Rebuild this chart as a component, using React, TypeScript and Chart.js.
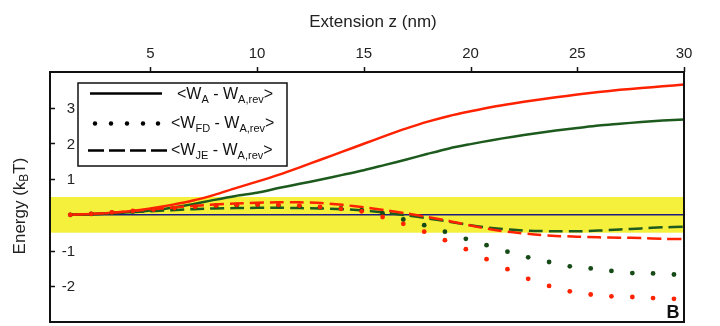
import React, { useEffect, useRef } from 'react';
import { Chart, registerables } from 'chart.js';
Chart.register(...registerables);

// ---- data ----
const zSolid = [1.25, 2.5, 4, 5, 6, 7, 8, 9, 10, 11, 12, 13, 14, 15, 16, 17, 18, 19, 20, 21, 22, 23, 24, 25, 26, 27, 28, 29, 30];
const wARed = [0, 0.03, 0.1, 0.18, 0.28, 0.4, 0.56, 0.75, 0.93, 1.12, 1.33, 1.55, 1.77, 1.99, 2.21, 2.42, 2.61, 2.77, 2.9, 3.02, 3.12, 3.21, 3.29, 3.37, 3.44, 3.5, 3.55, 3.6, 3.65];
const wAGreen = [0, 0.02, 0.07, 0.12, 0.2, 0.3, 0.42, 0.53, 0.62, 0.75, 0.87, 0.99, 1.12, 1.25, 1.4, 1.55, 1.71, 1.86, 1.98, 2.09, 2.19, 2.28, 2.36, 2.43, 2.5, 2.55, 2.6, 2.64, 2.67];

const zDashed = [1.25, 3, 5, 7, 9, 11, 12, 13, 14, 15, 16, 17, 18, 19, 20, 21, 22, 23, 24, 25, 26, 27, 28, 29, 30];
const wJERed = [0, 0.05, 0.15, 0.25, 0.32, 0.35, 0.35, 0.33, 0.28, 0.21, 0.13, 0.04, -0.06, -0.17, -0.3, -0.41, -0.49, -0.55, -0.59, -0.61, -0.63, -0.64, -0.65, -0.67, -0.68];
const wJEGreen = [0, 0.04, 0.1, 0.16, 0.19, 0.2, 0.19, 0.18, 0.16, 0.12, 0.06, -0.01, -0.1, -0.19, -0.29, -0.37, -0.42, -0.45, -0.46, -0.46, -0.44, -0.41, -0.38, -0.35, -0.33];

const zDotted = [1.25, 2.23, 3.2, 4.18, 5.15, 6.13, 7.1, 8.08, 9.05, 10.03, 11, 11.98, 12.95, 13.93, 14.9, 15.88, 16.85, 17.83, 18.8, 19.78, 20.75, 21.73, 22.7, 23.68, 24.65, 25.63, 26.6, 27.58, 28.55, 29.53];
const wFDRed = [0, 0.03, 0.07, 0.11, 0.15, 0.19, 0.23, 0.26, 0.28, 0.29, 0.28, 0.26, 0.22, 0.17, 0.1, -0.06, -0.25, -0.47, -0.71, -0.96, -1.24, -1.52, -1.79, -1.99, -2.14, -2.23, -2.28, -2.3, -2.33, -2.35];
const wFDGreen = [0, 0.03, 0.06, 0.1, 0.14, 0.18, 0.22, 0.25, 0.27, 0.28, 0.26, 0.24, 0.21, 0.18, 0.13, 0.04, -0.13, -0.29, -0.47, -0.67, -0.85, -1.03, -1.19, -1.32, -1.44, -1.5, -1.57, -1.63, -1.64, -1.67];

const zeroLineZ = [1.25, 30];
const zeroLineW = [0, 0];
const bandLimits = [-0.5, 0.5];

const xTicks = [5, 10, 15, 20, 25, 30];
const yTicks = [-2, -1, 1, 2, 3];

const xTitle = 'Extension z (nm)';
const yTitleParts: [string, boolean][] = [['Energy (k', false], ['B', true], ['T)', false]];
const legendRows: [string, boolean][][] = [
  [['<W', false], ['A', true], [' - W', false], ['A,rev', true], ['>', false]],
  [['<W', false], ['FD', true], [' - W', false], ['A,rev', true], ['>', false]],
  [['<W', false], ['JE', true], [' - W', false], ['A,rev', true], ['>', false]],
];
const panelLabel = 'B';

const RED = '#ff2200';
const GREEN = '#1d5a1d';
const FONT = '"Liberation Sans", Arial, sans-serif';

const pts = (xs: number[], ys: number[]) => xs.map((x, i) => ({ x, y: ys[i] }));

function drawRich(ctx: CanvasRenderingContext2D, parts: [string, boolean][], x: number, y: number, size: number, weight = 'normal') {
  let cx = x;
  for (const [t, sub] of parts) {
    ctx.font = `${weight} ${sub ? Math.round(size * 0.68) : size}px ${FONT}`;
    ctx.fillText(t, cx, sub ? y + size * 0.3 : y);
    cx += ctx.measureText(t).width;
  }
  return cx - x;
}
function richWidth(ctx: CanvasRenderingContext2D, parts: [string, boolean][], size: number, weight = 'normal') {
  let w = 0;
  for (const [t, sub] of parts) {
    ctx.font = `${weight} ${sub ? Math.round(size * 0.68) : size}px ${FONT}`;
    w += ctx.measureText(t).width;
  }
  return w;
}

const decorPlugin = {
  id: 'decor',
  beforeDatasetsDraw(chart: any) {
    const { ctx, chartArea, scales } = chart;
    const y = scales.y;
    ctx.save();
    ctx.fillStyle = '#f5f03c';
    const top = y.getPixelForValue(bandLimits[1]);
    const bot = y.getPixelForValue(bandLimits[0]);
    ctx.fillRect(chartArea.left, top, chartArea.right - chartArea.left, bot - top);
    ctx.restore();
  },
  afterDraw(chart: any) {
    const { ctx, chartArea, scales } = chart;
    const xs = scales.x;
    const ys = scales.y;
    ctx.save();
    // box
    ctx.strokeStyle = '#111';
    ctx.lineWidth = 2;
    ctx.strokeRect(chartArea.left, chartArea.top, chartArea.right - chartArea.left, chartArea.bottom - chartArea.top);
    // ticks
    ctx.lineWidth = 1.5;
    ctx.beginPath();
    for (const v of xTicks) {
      const px = Math.round(xs.getPixelForValue(v)) + 0.5;
      ctx.moveTo(px, chartArea.top);
      ctx.lineTo(px, chartArea.top - 5);
    }
    for (const v of yTicks) {
      const py = Math.round(ys.getPixelForValue(v)) + 0.5;
      ctx.moveTo(chartArea.left, py);
      ctx.lineTo(chartArea.left + 5, py);
    }
    ctx.stroke();

    ctx.fillStyle = '#222';
    // y tick labels (inside the plot, right aligned)
    ctx.font = `15px ${FONT}`;
    ctx.textAlign = 'right';
    ctx.textBaseline = 'middle';
    for (const v of yTicks) {
      ctx.fillText(String(v), chartArea.left + 25, ys.getPixelForValue(v) + 1);
    }
    // x title
    ctx.font = `17px ${FONT}`;
    ctx.textAlign = 'center';
    ctx.textBaseline = 'middle';
    ctx.fillText(xTitle, 373, 22);
    // y title
    ctx.save();
    ctx.translate(20, 206);
    ctx.rotate(-Math.PI / 2);
    ctx.textAlign = 'left';
    const yw = richWidth(ctx, yTitleParts, 17);
    drawRich(ctx, yTitleParts, -yw / 2, 0, 17);
    ctx.restore();

    // legend
    const lx = 78, ly = 83, lw = 209, lh = 83;
    ctx.fillStyle = '#fff';
    ctx.fillRect(lx, ly, lw, lh);
    ctx.strokeStyle = '#111';
    ctx.lineWidth = 1.5;
    ctx.strokeRect(lx, ly, lw, lh);
    ctx.strokeStyle = '#000';
    ctx.fillStyle = '#000';
    // row 1 solid
    ctx.lineWidth = 2.5;
    ctx.beginPath();
    ctx.moveTo(90, 93.5);
    ctx.lineTo(162, 93.5);
    ctx.stroke();
    // row 2 dots
    for (const dx of [95, 111, 127, 143, 158]) {
      ctx.beginPath();
      ctx.arc(dx, 123.5, 2.2, 0, Math.PI * 2);
      ctx.fill();
    }
    // row 3 dashed
    ctx.setLineDash([16, 5]);
    ctx.beginPath();
    ctx.moveTo(88, 150.5);
    ctx.lineTo(168, 150.5);
    ctx.stroke();
    ctx.setLineDash([]);
    ctx.textAlign = 'left';
    ctx.textBaseline = 'middle';
    ctx.fillStyle = '#111';
    drawRich(ctx, legendRows[0], 177, 95, 16);
    drawRich(ctx, legendRows[1], 171, 124, 16);
    drawRich(ctx, legendRows[2], 171, 151, 16);

    // panel label
    ctx.font = `bold 18px ${FONT}`;
    ctx.textAlign = 'center';
    ctx.fillText(panelLabel, 673, 313);
    ctx.restore();
  },
};

export default function App() {
  const ref = useRef<HTMLCanvasElement>(null);
  useEffect(() => {
    if (!ref.current) return;
    const chart = new Chart(ref.current, {
      type: 'line',
      data: {
        datasets: [
          { data: pts(zDotted, wFDRed), showLine: false, pointRadius: 2.4, pointBackgroundColor: RED, pointBorderWidth: 0, borderColor: RED },
          { data: pts(zDotted, wFDGreen), showLine: false, pointRadius: 2.4, pointBackgroundColor: '#164a16', pointBorderWidth: 0, borderColor: '#164a16' },
          { data: pts(zDashed, wJERed), borderColor: RED, borderWidth: 2.5, borderDash: [14, 6], pointRadius: 0, tension: 0.3 },
          { data: pts(zDashed, wJEGreen), borderColor: GREEN, borderWidth: 2.5, borderDash: [14, 6], pointRadius: 0, tension: 0.3 },
          { data: pts(zSolid, wARed), borderColor: RED, borderWidth: 2.5, pointRadius: 0, tension: 0.3 },
          { data: pts(zSolid, wAGreen), borderColor: GREEN, borderWidth: 2.5, pointRadius: 0, tension: 0.3 },
          { data: pts(zeroLineZ, zeroLineW), borderColor: '#1c1c80', borderWidth: 1.5, pointRadius: 0 },
        ],
      },
      options: {
        animation: false,
        responsive: false,
        maintainAspectRatio: false,
        layout: { padding: { top: 0, left: 0, right: 36, bottom: 3 } },
        plugins: { legend: { display: false }, tooltip: { enabled: false } },
        scales: {
          x: {
            type: 'linear',
            position: 'top',
            min: 0.3,
            max: 30,
            grid: { display: false },
            border: { display: false },
            afterBuildTicks: (s: any) => { s.ticks = xTicks.map((v) => ({ value: v })); },
            afterFit: (s: any) => { s.height = 72; },
            ticks: { color: '#222', font: { size: 15, family: FONT }, padding: 1, maxRotation: 0 },
          },
          y: {
            type: 'linear',
            min: -3,
            max: 4,
            grid: { display: false },
            border: { display: false },
            afterBuildTicks: (s: any) => { s.ticks = yTicks.map((v) => ({ value: v })); },
            afterFit: (s: any) => { s.width = 50; s.paddingTop = 0; s.paddingBottom = 0; },
            ticks: { display: false, padding: 0 },
          },
        },
      },
      plugins: [decorPlugin],
    });
    return () => chart.destroy();
  }, []);
  return (
    <div style={{ position: 'absolute', left: 0, top: 0, width: 720, height: 326, background: '#fff' }}>
      <canvas ref={ref} width={720} height={326} style={{ width: 720, height: 326, display: 'block' }} />
    </div>
  );
}
